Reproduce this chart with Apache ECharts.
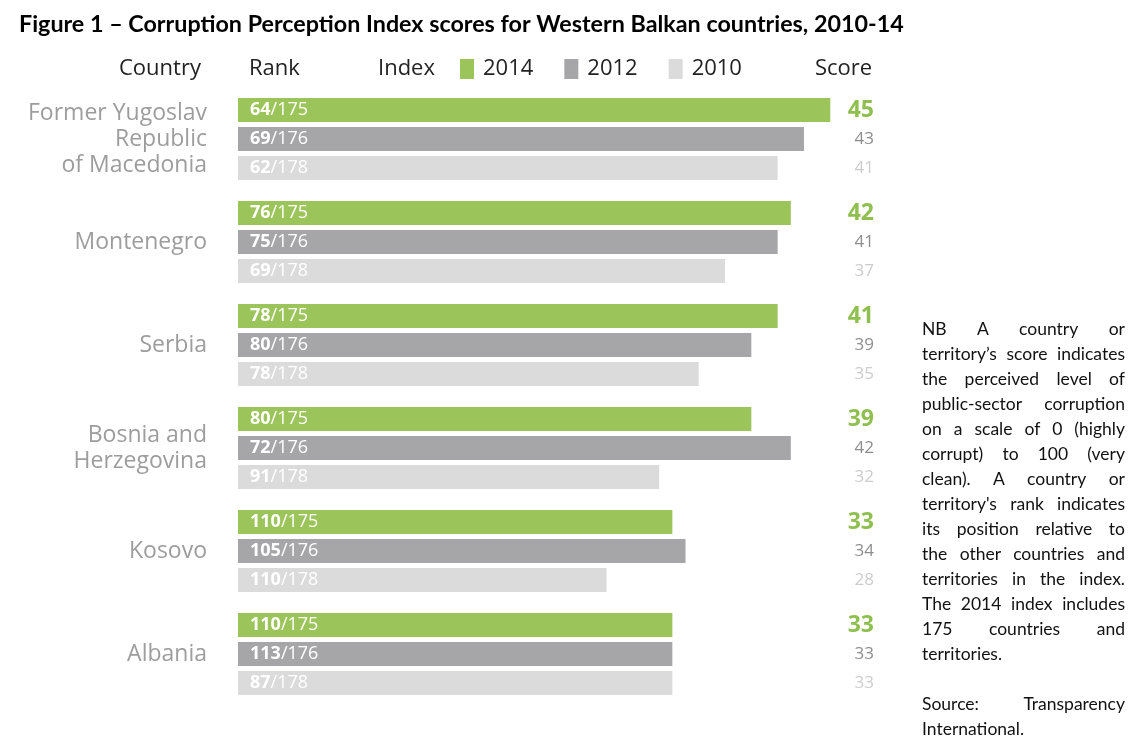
<!DOCTYPE html>
<html>
<head>
<meta charset="utf-8">
<title>Corruption Perception Index - Western Balkans</title>
<script src="https://cdn.jsdelivr.net/npm/echarts@6/dist/echarts.min.js"></script>
<style>
  html, body { margin: 0; padding: 0; background: #fff; }
  #chart { position: absolute; left: 0; top: 0; width: 1148px; height: 741px; }
  #note { position: absolute; left: 922px; top: 316px; width: 203px;
          font-family: Lato, sans-serif; font-size: 17.5px; line-height: 25px; color: #111; }
  #note div { text-align: justify; text-align-last: justify; white-space: nowrap; }
  #note div.last { text-align: left; text-align-last: left; }
</style>
</head>
<body>
<div id="chart"></div>
<div id="note">
  <div>NB A country or</div>
  <div>territory’s score indicates</div>
  <div>the perceived level of</div>
  <div>public-sector corruption</div>
  <div>on a scale of 0 (highly</div>
  <div>corrupt) to 100 (very</div>
  <div>clean). A country or</div>
  <div>territory's rank indicates</div>
  <div>its position relative to</div>
  <div>the other countries and</div>
  <div>territories in the index.</div>
  <div>The 2014 index includes</div>
  <div>175 countries and</div>
  <div class="last">territories.</div>
  <div class="last">&nbsp;</div>
  <div>Source: Transparency</div>
  <div class="last">International.</div>
</div>
<script>
// data
const countries = ['Former Yugoslav\nRepublic\nof Macedonia', 'Montenegro', 'Serbia',
  'Bosnia and\nHerzegovina', 'Kosovo', 'Albania']
const years = ['2014', '2012', '2010']
const totals = [175, 176, 178]
const score2014 = [45, 42, 41, 39, 33, 33]
const score2012 = [43, 41, 39, 42, 34, 33]
const score2010 = [41, 37, 35, 32, 28, 33]
const rank2014 = [64, 76, 78, 80, 110, 110]
const rank2012 = [69, 75, 80, 72, 105, 113]
const rank2010 = [62, 69, 78, 91, 110, 87]

const scores = [score2014, score2012, score2010]
const ranks = [rank2014, rank2012, rank2010]
const barColors = ['#9bc45a', '#a6a6a8', '#dbdbdb']
const scoreColors = ['#8fbf4f', '#8e8e8e', '#cdcdcd']
const AXIS_MAX = 48.7
const FONT = '"Open Sans", sans-serif'

const chart = echarts.init(document.getElementById('chart'))

const series = []
years.forEach((yr, k) => {
  series.push({
    name: yr,
    type: 'bar',
    stack: 's' + yr,
    barWidth: 24,
    barGap: '20.8%',
    silent: true,
    itemStyle: { color: barColors[k] },
    label: {
      show: true,
      position: 'insideLeft',
      distance: 12,
      formatter: p => '{b|' + ranks[k][p.dataIndex] + '}{n|/' + totals[k] + '}',
      rich: {
        b: { color: '#fff', fontFamily: FONT, fontSize: 18, fontWeight: 'bold' },
        n: { color: '#fff', fontFamily: FONT, fontSize: 18 }
      }
    },
    data: scores[k]
  })
  // transparent filler up to the axis end, carries the score label
  series.push({
    name: yr + ' score',
    type: 'bar',
    stack: 's' + yr,
    barWidth: 24,
    silent: true,
    itemStyle: { color: 'rgba(0,0,0,0)' },
    label: {
      show: true,
      position: 'insideRight',
      distance: 5,
      formatter: p => scores[k][p.dataIndex],
      color: scoreColors[k],
      fontFamily: FONT,
      fontSize: k === 0 ? 23 : 17,
      fontWeight: k === 0 ? 'bold' : 'normal'
    },
    data: scores[k].map(v => AXIS_MAX - v)
  })
})

const headStyle = { fill: '#222', font: '22px "Open Sans", sans-serif', textVerticalAlign: 'middle' }

chart.setOption({
  animation: false,
  title: {
    text: 'Figure 1 – Corruption Perception Index scores for Western Balkan countries, 2010-14',
    left: 14,
    top: 8,
    textStyle: { fontFamily: 'Lato, sans-serif', fontSize: 23.3, fontWeight: 'bold', color: '#000' }
  },
  legend: {
    data: years,
    left: 455,
    top: 53,
    icon: 'rect',
    itemWidth: 14,
    itemHeight: 20,
    itemGap: 31,
    selectedMode: false,
    textStyle: { fontFamily: FONT, fontSize: 22, color: '#222', padding: [0, 0, 0, 4] }
  },
  graphic: [
    { type: 'text', left: 119, top: 58, style: Object.assign({ text: 'Country' }, headStyle) },
    { type: 'text', left: 249, top: 58, style: Object.assign({ text: 'Rank' }, headStyle) },
    { type: 'text', left: 378, top: 58, style: Object.assign({ text: 'Index' }, headStyle) },
    { type: 'text', left: 815, top: 58, style: Object.assign({ text: 'Score' }, headStyle) }
  ],
  grid: { left: 238, right: 269, top: 87.5, bottom: 35.5, containLabel: false },
  xAxis: {
    type: 'value',
    min: 0,
    max: AXIS_MAX,
    show: false
  },
  yAxis: {
    type: 'category',
    inverse: true,
    data: countries,
    axisLine: { show: false },
    axisTick: { show: false },
    axisLabel: {
      margin: 31,
      color: '#9d9d9d',
      fontFamily: FONT,
      fontSize: 23,
      lineHeight: 26,
      align: 'right'
    }
  },
  series: series
})
</script>
</body>
</html>
